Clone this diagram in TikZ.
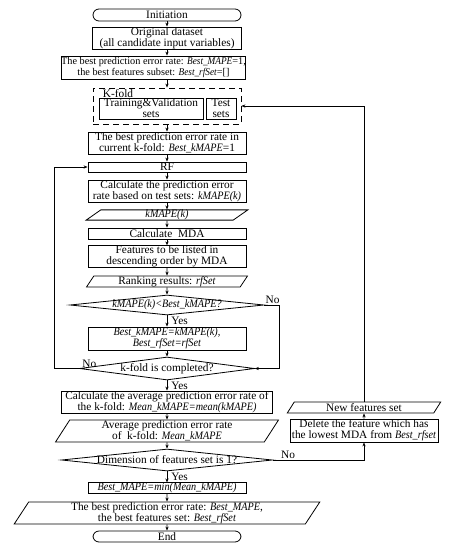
\documentclass[tikz,border=0pt]{standalone}
\usepackage{fontspec}
\setmainfont{Liberation Serif}[ItalicFeatures={FakeStretch=0.9}]
\usetikzlibrary{calc,shapes.geometric,arrows.meta}

\begin{document}
\begin{tikzpicture}[x=0.75pt,y=0.75pt,yscale=-1,xscale=1,
  every node/.style={font=\fontsize{8.5}{8.4}\selectfont, inner sep=0pt, align=center},
  proc/.style={draw, line width=0.6pt, rectangle, minimum width=118.5pt, minimum height=16.5pt},
  term/.style={draw, line width=0.6pt, rectangle, rounded corners=4.5pt, minimum width=111pt, minimum height=9pt},
  io/.style={draw, line width=0.6pt, trapezium, trapezium left angle=65, trapezium right angle=115, trapezium stretches=true, minimum width=121.5pt, minimum height=16.5pt},
  decide/.style={draw, line width=0.6pt, diamond, minimum width=145.5pt, minimum height=15pt, inner ysep=-1pt},
  flow/.style={draw, line width=0.6pt, -{Stealth[length=3pt,width=2.4pt]}},
  lbl/.style={inner sep=0.8pt}
]
\useasboundingbox (0,0) rectangle (450,550);
%Flowchart: Terminator
\node[term] (init) at (167,15) {Initiation};
%Flowchart: Process
\node[proc, minimum width=111.75pt] (orig) at (167,38) {Original dataset\\(all candidate input variables)};
\node[proc, minimum width=137.25pt, minimum height=17.25pt, font=\fontsize{7.7}{8.4}\selectfont] (best0) at (153.5,67.5) {The best prediction error rate: \textit{Best\_MAPE}=1,\\the best features subset: \textit{Best\_rfSet}=[]};
%Shape: Dashed Rectangle
\node[proc, dash pattern=on 4.5pt off 3pt, minimum width=111pt, minimum height=27pt] (kfold) at (167,106) {};
\node[anchor=north west] (kfoldlbl) at ($(kfold.north west)+(10,1.5)$) {K-fold};
\node[proc, minimum width=78pt, minimum height=15.75pt] (train) at (151,108.5) {Training\&Validation\\sets};
\node[proc, minimum width=22.5pt, minimum height=15.75pt] (test) at (221,108.5) {Test\\sets};
%Flowchart: Process
\node[proc] (bestk) at (167,143) {The best prediction error rate in\\current k-fold: \textit{Best\_kMAPE}=1};
\node[proc, minimum height=7.5pt] (rf) at (167,167) {RF};
\node[proc] (calc) at (167,191) {Calculate the prediction error\\rate based on test sets: \textit{kMAPE(k)}};
\node[io, minimum height=7.5pt] (kmape) at (167,215) {\textit{kMAPE(k)}};
\node[proc, minimum height=8.25pt] (mda) at (167,233.5) {Calculate~ MDA};
\node[proc, minimum height=15.75pt] (feat) at (167,256.5) {Features to be listed in\\descending order by MDA};
\node[io, minimum height=8.25pt] (rank) at (167,281.5) {Ranking results: \textit{rfSet}};
%Flowchart: Decision
\node[decide, aspect=9.7, inner xsep=-4pt] (dia1) at (167,305) {\textit{kMAPE(k)<Best\_kMAPE?}};
\node[proc, minimum height=17.25pt] (upd) at (167,338.5) {\textit{Best\_kMAPE=kMAPE(k),}\\\textit{Best\_rfSet=rfSet}};
\node[decide, minimum width=131.25pt, minimum height=17.25pt, aspect=7.6, inner xsep=-3pt] (dia2) at (167,368.5) {k-fold is completed?};
\node[proc, minimum width=158.25pt] (avg) at (167,402) {Calculate the average prediction error rate of\\the k-fold: \textit{Mean\_kMAPE=mean(kMAPE)}};
\node[io, minimum width=167.25pt] (avgp) at (167,431) {Average prediction error rate\\of~ k-fold: \textit{Mean\_kMAPE}};
\node[decide, minimum width=158.25pt, minimum height=16.5pt, aspect=9.6, inner xsep=-8pt] (dia3) at (167,460) {Dimension of features set is 1?};
\node[proc, minimum height=7.5pt] (minb) at (167,488) {\textit{Best\_MAPE=min(Mean\_kMAPE)}};
\node[io, minimum width=229.5pt] (out) at (167,513) {The best prediction error rate: \textit{Best\_MAPE},\\the best features set: \textit{Best\_rfSet}};
\node[term, minimum height=8.25pt] (endn) at (167,536.5) {End};
%Right branch
\node[io, minimum width=115.5pt, minimum height=8.25pt] (newf) at (364,407.5) {New features set};
\node[proc, minimum width=111pt, minimum height=17.25pt] (del) at (364,430.5) {Delete the feature which has\\the lowest MDA from \textit{Best\_rfset}};
%Connectors
\draw[flow] (init) -- (orig);
\draw[flow] (orig.south) -- (orig.south |- best0.north);
\draw[flow] (best0.south -| kfold.north) -- (kfold.north);
\draw[flow] (kfold) -- (bestk);
\draw[flow] (bestk) -- (rf);
\draw[flow] (rf) -- (calc);
\draw[flow] (calc) -- (kmape);
\draw[flow] (kmape) -- (mda);
\draw[flow] (mda) -- (feat);
\draw[flow] (feat) -- (rank);
\draw[flow] (rank) -- (dia1);
\draw[flow] (dia1) -- (upd);
\draw[flow] (upd) -- (dia2);
\draw[flow] (dia2) -- (avg);
\draw[flow] (avg) -- (avgp);
\draw[flow] (avgp) -- (dia3);
\draw[flow] (dia3) -- (minb);
\draw[flow] (minb) -- (out);
\draw[flow] (out) -- (endn);
\draw[flow] (dia1.east) -- ++(15,0) |- (dia2.east);
\draw[flow] (dia2.west) -- ++(-25,0) |- (rf.west);
\draw[flow] (dia3.east) -| (del.south);
\draw[flow] (del) -- (newf);
\draw[flow] (newf.north) |- (kfold.east);
%Labels
\node[lbl, anchor=south west] (no1) at (dia1.east) {No};
\node[lbl, anchor=south west] (no2) at ($(dia2.west)+(2,0)$) {No};
\node[lbl, anchor=south west] (no3) at ($(dia3.east)+(7,0)$) {No};
\node[lbl, anchor=west] (yes1) at ($(dia1.south)!.5!(upd.north)+(3,0)$) {Yes};
\node[lbl, anchor=west] (yes2) at ($(dia2.south)!.5!(avg.north)+(3,0)$) {Yes};
\node[lbl, anchor=west] (yes3) at ($(dia3.south)!.5!(minb.north)+(3,0)$) {Yes};
\end{tikzpicture}
\end{document}
